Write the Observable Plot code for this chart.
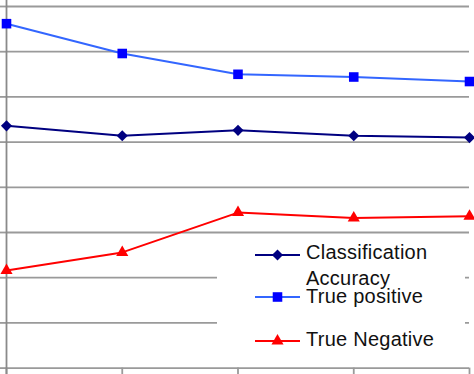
<!DOCTYPE html>
<html>
<head>
<meta charset="utf-8">
<script src="https://cdn.jsdelivr.net/npm/d3@7"></script>
<script src="https://cdn.jsdelivr.net/npm/@observablehq/plot@0.6"></script>
<style>
  html, body { margin: 0; padding: 0; background: #fff; }
  #wrap { position: relative; width: 474px; height: 374px; overflow: hidden; }
  #legend { position: absolute; left: 217px; top: 236px; width: 248px; height: 126px; background: #fff;
            font-family: "Liberation Sans", Arial, sans-serif; font-size: 20px; color: #111; letter-spacing: 0.25px; }
  #legend .t { position: absolute; left: 89px; white-space: nowrap; line-height: 17px; height: 17px; }
  #legend svg { position: absolute; left: 0; top: 0; }
</style>
</head>
<body>
<div id="wrap"><div id="legend"></div></div>
<script>
const xCats = [1, 2, 3, 4, 5];
const accuracy = [86.8, 85.7, 86.3, 85.7, 85.5];
const truePositive = [98.1, 94.8, 92.5, 92.2, 91.7];
const trueNegative = [70.8, 72.8, 77.2, 76.6, 76.8];
const yTicks = [60, 65, 70, 75, 80, 85, 90, 95, 100];

const seriesNames = ["Classification Accuracy", "True positive", "True Negative"];
const lineColors = ["#000080", "#3366ff", "#ff0000"];
const markColors = ["#000080", "#0000ff", "#ff0000"];
const symbols = ["diamond2", "square", "triangle"];
const radii = [5, 5.4, 4.5];

const seriesValues = [accuracy, truePositive, trueNegative];
const data = seriesValues.flatMap((vals, s) => vals.map((v, i) => ({series: seriesNames[s], x: xCats[i], y: v})));

const marks = [
  Plot.ruleY(yTicks, {stroke: "#9a9a9a", strokeWidth: 1.8}),
  Plot.axisY({ticks: yTicks, tickSize: 6, tickFormat: () => "", label: null, stroke: "#9a9a9a", strokeWidth: 1.8}),
  Plot.axisX({ticks: xCats, tickSize: 8, tickFormat: () => "", label: null, stroke: "#9a9a9a", strokeWidth: 1.8}),
  Plot.ruleX([xCats[0]], {stroke: "#8a8a8a", strokeWidth: 1.8, insetTop: -6, insetBottom: -7})
];
seriesNames.forEach((name, s) => {
  const d = data.filter(r => r.series === name);
  marks.push(Plot.line(d, {x: "x", y: "y", stroke: lineColors[s], strokeWidth: 2}));
  marks.push(Plot.dot(d, {x: "x", y: "y", symbol: symbols[s], fill: markColors[s], stroke: "none", r: radii[s]}));
});

const chart = Plot.plot({
  width: 474,
  height: 374,
  marginLeft: 6,
  marginRight: 5,
  marginTop: 6,
  marginBottom: 6.4,
  x: {type: "linear", domain: [1, 5], axis: null},
  y: {domain: [60, 100], axis: null},
  style: {background: "white", overflow: "visible"},
  marks
});
document.getElementById("wrap").prepend(chart);
chart.style.position = "absolute";
chart.style.left = "0";
chart.style.top = "0";

// Legend (HTML overlay)
const legend = d3.select("#legend");
const sw = legend.append("svg").attr("width", 90).attr("height", 126);
const swatchY = [19, 61, 105];
const symMap = {diamond2: d3.symbolDiamond2, square: d3.symbolSquare, triangle: d3.symbolTriangle};
seriesNames.forEach((name, s) => {
  sw.append("line").attr("x1", 38).attr("x2", 83).attr("y1", swatchY[s]).attr("y2", swatchY[s])
    .attr("stroke", lineColors[s]).attr("stroke-width", 2);
  sw.append("path").attr("d", d3.symbol(symMap[symbols[s]], Math.PI * radii[s] * radii[s])())
    .attr("transform", `translate(60.5,${swatchY[s]})`).attr("fill", markColors[s]);
});
const legendLines = [["Classification", 7.6], ["Accuracy", 33.6], ["True positive", 51.6], ["True Negative", 95.1]];
legendLines.forEach(([txt, top]) => {
  legend.append("div").attr("class", "t").style("top", top + "px").text(txt);
});
</script>
</body>
</html>
